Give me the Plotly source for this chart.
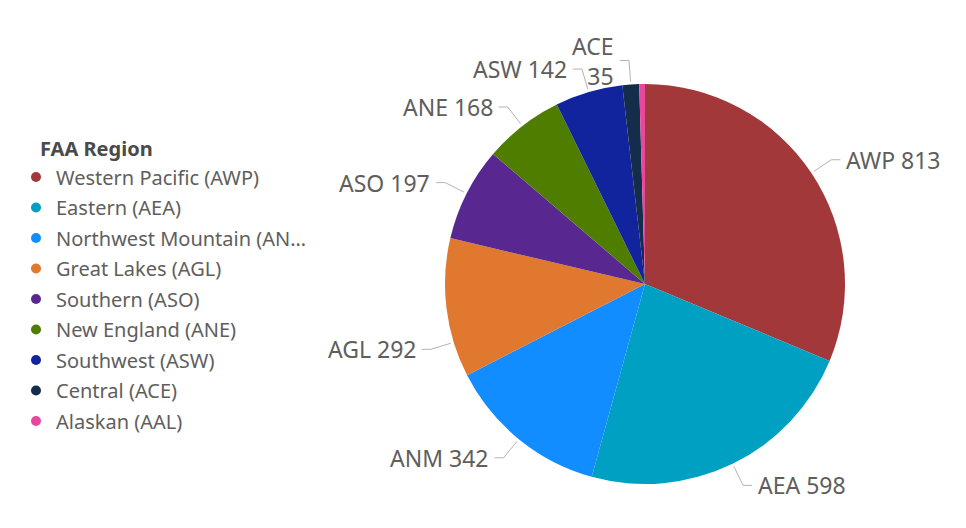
import math
import plotly.graph_objects as go

# ---- data ----
regions = ["Western Pacific (AWP)", "Eastern (AEA)", "Northwest Mountain (ANM)",
           "Great Lakes (AGL)", "Southern (ASO)", "New England (ANE)",
           "Southwest (ASW)", "Central (ACE)", "Alaskan (AAL)"]
legend_names = ["Western Pacific (AWP)", "Eastern (AEA)", "Northwest Mountain (AN…",
                "Great Lakes (AGL)", "Southern (ASO)", "New England (ANE)",
                "Southwest (ASW)", "Central (ACE)", "Alaskan (AAL)"]
codes = ["AWP", "AEA", "ANM", "AGL", "ASO", "ANE", "ASW", "ACE", "AAL"]
counts = [813, 598, 342, 292, 197, 168, 142, 35, 12]
colors = ["#A3383A", "#00A0C2", "#118DFF", "#E0782F", "#58278F",
          "#4F7D00", "#12239E", "#142D4A", "#E8479C"]
legend_title = "FAA Region"

# ---- layout constants (pixels) ----
W, H = 966, 528
CX, CY, R = 645, 284, 200
show_label = [True, True, True, True, True, True, True, True, False]
angle_shift = [0, 0, 0, -10, 0, 0, 0, 0, 0]
two_line = [False] * 7 + [True, False]
TXT = "#605E5C"
FONT = "Noto Sans, Open Sans, sans-serif"


def px(x, y):
    return x / W, 1 - y / H


fig = go.Figure()
fig.add_trace(go.Pie(
    labels=regions, values=counts, sort=False, direction="clockwise", rotation=0,
    marker=dict(colors=colors, line=dict(width=0)),
    textinfo="none", hoverinfo="label+value", showlegend=False,
    domain=dict(x=[(CX - R) / W, (CX + R) / W], y=[1 - (CY + R) / H, 1 - (CY - R) / H]),
))

# legend entries with circle markers
for i, (nm, c) in enumerate(zip(legend_names, colors)):
    fig.add_trace(go.Scatter(x=[None], y=[None], mode="markers", name=nm,
                             legendgroup=f"g{i}",
                             marker=dict(symbol="circle", size=10, color=c)))

total = sum(counts)
cum = 0
shapes = []
annotations = []
for i, v in enumerate(counts):
    mid = (cum + v / 2) / total * 360
    cum += v
    if not show_label[i]:
        continue
    a = math.radians(mid + angle_shift[i])
    sx, sy = CX + (R + 3) * math.sin(a), CY - (R + 3) * math.cos(a)
    ex, ey = CX + (R + 24) * math.sin(a), CY - (R + 24) * math.cos(a)
    right = math.sin(a) > 0
    hx = ex + 9 if right else ex - 9
    x0, y0 = px(sx, sy)
    x1, y1 = px(ex, ey)
    x2, y2 = px(hx, ey)
    shapes.append(dict(type="path", xref="paper", yref="paper",
                       path=f"M {x0} {y0} L {x1} {y1} L {x2} {y2}",
                       line=dict(color="#B3B3B3", width=1)))
    tx = hx + 4 if right else hx - 4
    text = f"{codes[i]}<br>{v}" if two_line[i] else f"{codes[i]} {v}"
    ax, ay = px(tx, ey)
    annotations.append(dict(x=ax, y=ay, xref="paper", yref="paper", text=text,
                            showarrow=False, xanchor="left" if right else "right",
                            yanchor="middle", align="right",
                            font=dict(size=23, color=TXT, family=FONT)))

tx_, ty_ = px(38, 148)
annotations.append(dict(x=tx_, y=ty_, xref="paper", yref="paper",
                        text=f"<b>{legend_title}</b>", showarrow=False,
                        xanchor="left", yanchor="middle",
                        font=dict(size=20, color="#4A4A4A", family=FONT)))

lx, ly = px(16, 157.5)
fig.update_layout(
    width=W, height=H, margin=dict(l=0, r=0, t=0, b=0),
    paper_bgcolor="white", plot_bgcolor="white",
    xaxis=dict(visible=False), yaxis=dict(visible=False),
    shapes=shapes, annotations=annotations,
    legend=dict(x=lx, y=ly, xanchor="left", yanchor="top",
                font=dict(size=20, color=TXT, family=FONT),
                itemwidth=30, tracegroupgap=1.5, bgcolor="rgba(0,0,0,0)"),
    font=dict(family=FONT, color=TXT),
)

fig.write_html("out.html")
